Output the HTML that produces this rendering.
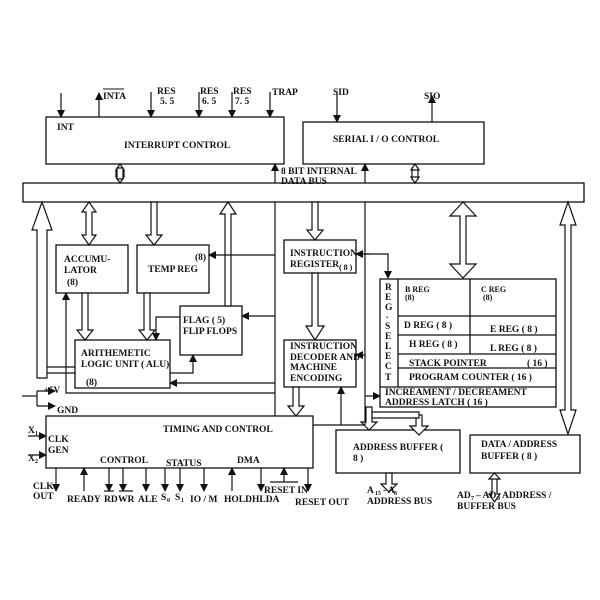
<!DOCTYPE html>
<html><head><meta charset="utf-8"><style>
body{margin:0;background:#fff}
svg{display:block}
text{font-family:"Liberation Serif",serif;font-weight:bold;font-size:9.5px;fill:#111}
</style></head><body>
<svg width="600" height="600" viewBox="0 0 600 600" xmlns="http://www.w3.org/2000/svg">
<defs>
<marker id="a" markerWidth="8" markerHeight="8" refX="7" refY="4" orient="auto" markerUnits="userSpaceOnUse"><path d="M0,0 L8,4 L0,8 z" fill="#111"/></marker>
</defs>
<g fill="none" stroke="#111" stroke-width="1.3">
<!-- boxes -->
<rect x="46" y="117" width="238" height="47"/>
<rect x="303" y="122" width="181" height="42"/>
<rect x="23" y="183" width="561" height="19"/>
<rect x="56" y="245" width="72" height="48"/>
<rect x="137" y="245" width="72" height="48"/>
<rect x="180" y="306" width="62" height="49"/>
<rect x="75" y="340" width="95" height="48"/>
<rect x="284" y="240" width="72" height="33"/>
<rect x="284" y="340" width="72" height="47"/>
<rect x="380" y="279" width="176" height="128"/>
<line x1="398" y1="279" x2="398" y2="387"/>
<line x1="470" y1="279" x2="470" y2="354"/>
<line x1="398" y1="316" x2="556" y2="316"/>
<line x1="398" y1="335" x2="556" y2="335"/>
<line x1="398" y1="354" x2="556" y2="354"/>
<line x1="398" y1="368" x2="556" y2="368"/>
<line x1="380" y1="387" x2="556" y2="387"/>
<rect x="46" y="416" width="267" height="52"/>
<rect x="336" y="430" width="124" height="43"/>
<rect x="470" y="435" width="110" height="38"/>
</g>
<!-- hollow arrows -->
<g fill="#fff" stroke="#111" stroke-width="1.2">
<polygon points="116,170 124,170 124,177 120,183 116,177"/><polygon points="116,170 124,170 124,170 120,164 116,170"/>
<polygon points="117,168 123,168 123,179 117,179"/>
<polygon points="412,168 418,168 418,179 412,179"/>
<polygon points="411,170 419,170 415,164"/><polygon points="411,177 419,177 415,183"/>
<!-- acc double -->
<polygon points="86,212 86,235 82,235 89,245 96,235 92,235 92,212 96,212 89,202 82,212"/>
<!-- temp down -->
<polygon points="151,202 157,202 157,235 162,235 154,245 146,235 151,235"/>
<!-- flag up -->
<polygon points="225,306 231,306 231,214 236,214 228,202 220,214 225,214"/>
<!-- acc->alu -->
<polygon points="82,293 88,293 88,330 93,330 85,340 77,330 82,330"/>
<polygon points="144,293 150,293 150,330 155,330 147,340 139,330 144,330"/>
<!-- big left up -->
<polygon points="37,378 47,378 47,230 52,230 42,202 32,230 37,230"/>
<!-- IR -->
<polygon points="312,202 318,202 318,230 323,230 315,240 307,230 312,230"/>
<polygon points="312,273 318,273 318,326 324,326 315,340 306,326 312,326"/>
<polygon points="293,387 299,387 299,406 304,406 296,416 288,406 293,406"/>
<!-- reg double -->
<polygon points="460,216 460,264 450,264 463,278 476,264 466,264 466,216 476,216 463,202 450,216"/>
<!-- right double -->
<polygon points="565,225 565,410 560,410 568,434 576,410 571,410 571,225 576,225 568,202 560,225"/>
<!-- latch to buffers -->
<polygon points="416,415 422,415 422,426 428,426 419,435 410,426 416,426"/>
<polygon points="366,407 372,407 372,422 377,422 369,430 361,422 366,422"/>
<polygon points="372,412 419,412 419,418 372,418"/>
<polygon points="386,473 392,473 392,484 397,484 389,492 381,484 386,484"/>
<polygon points="492,479 497,479 497,494 500,494 494.5,502 489,494 492,494 492,479 489,479 494.5,473 500,479"/>
</g>
<g stroke="#111" stroke-width="1.2" fill="none">
<!-- top signals -->
<line x1="61" y1="93" x2="61" y2="117" marker-end="url(#a)"/>
<line x1="99" y1="117" x2="99" y2="93" marker-end="url(#a)"/>
<line x1="151" y1="92" x2="151" y2="117" marker-end="url(#a)"/>
<line x1="199" y1="92" x2="199" y2="117" marker-end="url(#a)"/>
<line x1="232" y1="92" x2="232" y2="117" marker-end="url(#a)"/>
<line x1="270" y1="92" x2="270" y2="117" marker-end="url(#a)"/>
<line x1="337" y1="93" x2="337" y2="122" marker-end="url(#a)"/>
<line x1="432" y1="122" x2="432" y2="96" marker-end="url(#a)"/>
<!-- vertical 275 -->
<line x1="275" y1="202" x2="275" y2="416"/>
<line x1="275" y1="183" x2="275" y2="164" marker-end="url(#a)"/>
<line x1="275" y1="255" x2="209" y2="255" marker-end="url(#a)"/>
<line x1="275" y1="316" x2="242" y2="316" marker-end="url(#a)"/>
<line x1="275" y1="383" x2="170" y2="383" marker-end="url(#a)"/>
<!-- vertical 365 -->
<line x1="365" y1="202" x2="365" y2="425"/>
<line x1="365" y1="183" x2="365" y2="164" marker-end="url(#a)"/>
<line x1="365" y1="355" x2="356" y2="355" marker-end="url(#a)"/>
<line x1="365" y1="396" x2="380" y2="396" marker-end="url(#a)"/>
<polyline points="313,425 365,425"/>
<line x1="341" y1="425" x2="341" y2="387" marker-end="url(#a)"/>
<!-- IR to reg select -->
<line x1="370" y1="254" x2="356" y2="254" marker-end="url(#a)"/>
<polyline points="365,254 388,254 388,278" marker-end="url(#a)"/>
<!-- flag/alu -->
<polyline points="180,317 156,317 156,340" marker-end="url(#a)"/>
<polyline points="170,373 193,373 193,355" marker-end="url(#a)"/>
<line x1="47" y1="367" x2="75" y2="367"/>
<line x1="47" y1="373" x2="75" y2="373"/>
<polyline points="275,393 66,393 66,293" marker-end="url(#a)"/>
<!-- power -->
<line x1="22" y1="396" x2="37" y2="396"/>
<line x1="37" y1="391" x2="37" y2="406"/>
<line x1="37" y1="391" x2="55" y2="391" marker-end="url(#a)"/>
<line x1="37" y1="406" x2="55" y2="406" marker-end="url(#a)"/>
<!-- clock -->
<line x1="28" y1="436" x2="46" y2="436" marker-end="url(#a)"/>
<line x1="28" y1="455" x2="46" y2="455" marker-end="url(#a)"/>
<!-- bottom signals -->
<line x1="56" y1="468" x2="56" y2="491" marker-end="url(#a)"/>
<line x1="84" y1="491" x2="84" y2="468" marker-end="url(#a)"/>
<line x1="109" y1="468" x2="109" y2="491" marker-end="url(#a)"/>
<line x1="123" y1="468" x2="123" y2="491" marker-end="url(#a)"/>
<line x1="146" y1="468" x2="146" y2="491" marker-end="url(#a)"/>
<line x1="165" y1="468" x2="165" y2="491" marker-end="url(#a)"/>
<line x1="180" y1="468" x2="180" y2="491" marker-end="url(#a)"/>
<line x1="204" y1="468" x2="204" y2="491" marker-end="url(#a)"/>
<line x1="232" y1="491" x2="232" y2="468" marker-end="url(#a)"/>
<line x1="261" y1="468" x2="261" y2="491" marker-end="url(#a)"/>
<line x1="284" y1="482" x2="284" y2="468" marker-end="url(#a)"/>
<line x1="270" y1="482" x2="298" y2="482"/>
<line x1="308" y1="468" x2="308" y2="491" marker-end="url(#a)"/>
<line x1="104" y1="491" x2="114" y2="491"/>
<line x1="119" y1="491" x2="133" y2="491"/>
</g>
<!-- labels -->
<text x="57" y="130">INT</text>
<text x="124" y="148">INTERRUPT CONTROL</text>
<text x="103" y="99">INTA</text><line x1="103" y1="89" x2="124" y2="89" stroke="#111"/>
<text x="157" y="94">RES</text><text x="160" y="104">5. 5</text>
<text x="200" y="94">RES</text><text x="202" y="104">6. 5</text>
<text x="233" y="94">RES</text><text x="235" y="104">7. 5</text>
<text x="272" y="95">TRAP</text>
<text x="333" y="95">SID</text>
<text x="424" y="99">SIO</text>
<text x="333" y="142">SERIAL I / O CONTROL</text>
<text x="281" y="174">8 BIT INTERNAL</text>
<text x="281" y="184">DATA BUS</text>
<text x="64" y="262">ACCUMU-</text><text x="64" y="273">LATOR</text><text x="67" y="285">(8)</text>
<text x="195" y="260">(8)</text>
<text x="148" y="272">TEMP REG</text>
<text x="183" y="323">FLAG ( 5)</text><text x="183" y="334">FLIP FLOPS</text>
<text x="81" y="356">ARITHEMETIC</text><text x="81" y="367">LOGIC UNIT ( ALU)</text><text x="86" y="385">(8)</text>
<text x="290" y="256">INSTRUCTION</text><text x="290" y="267">REGISTER</text><text x="339" y="270" style="font-size:8px">( 8 )</text>
<text x="290" y="349">INSTRUCTION</text><text x="290" y="360">DECODER AND</text><text x="290" y="370">MACHINE</text><text x="290" y="381">ENCODING</text>
<g style="font-size:9px">
<text x="385" y="290">R</text><text x="385" y="300">E</text><text x="385" y="310">G</text><text x="386" y="318">.</text><text x="385" y="329">S</text><text x="385" y="339">E</text><text x="385" y="349">L</text><text x="385" y="359">E</text><text x="385" y="369">C</text><text x="385" y="380">T</text>
</g>
<text x="405" y="292" style="font-size:8px">B  REG</text><text x="405" y="300" style="font-size:8px">(8)</text>
<text x="481" y="292" style="font-size:8px">C  REG</text><text x="483" y="300" style="font-size:8px">(8)</text>
<text x="404" y="328">D REG ( 8 )</text>
<text x="490" y="332">E REG ( 8 )</text>
<text x="409" y="347">H REG ( 8 )</text>
<text x="490" y="351">L REG ( 8 )</text>
<text x="409" y="366">STACK POINTER</text><text x="527" y="366">( 16 )</text>
<text x="409" y="380">PROGRAM COUNTER ( 16 )</text>
<text x="385" y="395">INCREAMENT / DECREAMENT</text>
<text x="385" y="405">ADDRESS LATCH ( 16 )</text>
<text x="44" y="393" style="font-size:9px">+5V</text>
<text x="57" y="413">GND</text>
<text x="28" y="433">X</text><text x="35" y="435" style="font-size:6px">1</text>
<text x="28" y="461">X</text><text x="35" y="463" style="font-size:6px">2</text>
<text x="48" y="442">CLK</text><text x="48" y="453">GEN</text>
<text x="163" y="432">TIMING AND CONTROL</text>
<text x="100" y="463">CONTROL</text>
<text x="166" y="466">STATUS</text>
<text x="237" y="463">DMA</text>
<text x="33" y="489">CLK</text><text x="33" y="499">OUT</text>
<text x="67" y="502">READY</text>
<text x="104" y="502">RD</text><text x="118" y="502">WR</text><text x="138" y="502">ALE</text>
<text x="161" y="500">S</text><text x="167" y="502" style="font-size:6px">0</text>
<text x="175" y="500">S</text><text x="181" y="502" style="font-size:6px">1</text>
<text x="190" y="502">IO / M</text>
<text x="224" y="502">HOLD</text><text x="252" y="502">HLDA</text>
<text x="264" y="493">RESET IN</text>
<text x="295" y="505">RESET OUT</text>
<text x="353" y="450">ADDRESS BUFFER (</text><text x="353" y="461">8 )</text>
<text x="481" y="447">DATA / ADDRESS</text><text x="481" y="459">BUFFER ( 8 )</text>
<text x="367" y="493">A</text><text x="375" y="495" style="font-size:6px">15</text><text x="383" y="493">- A</text><text x="394" y="495" style="font-size:6px">8</text>
<text x="367" y="504">ADDRESS BUS</text>
<text x="457" y="498">AD</text><text x="471" y="500" style="font-size:6px">7</text><text x="476" y="498">– AD</text><text x="497" y="500" style="font-size:6px">0</text><text x="502" y="498"> ADDRESS /</text>
<text x="457" y="509">BUFFER BUS</text>
</svg>
</body></html>
